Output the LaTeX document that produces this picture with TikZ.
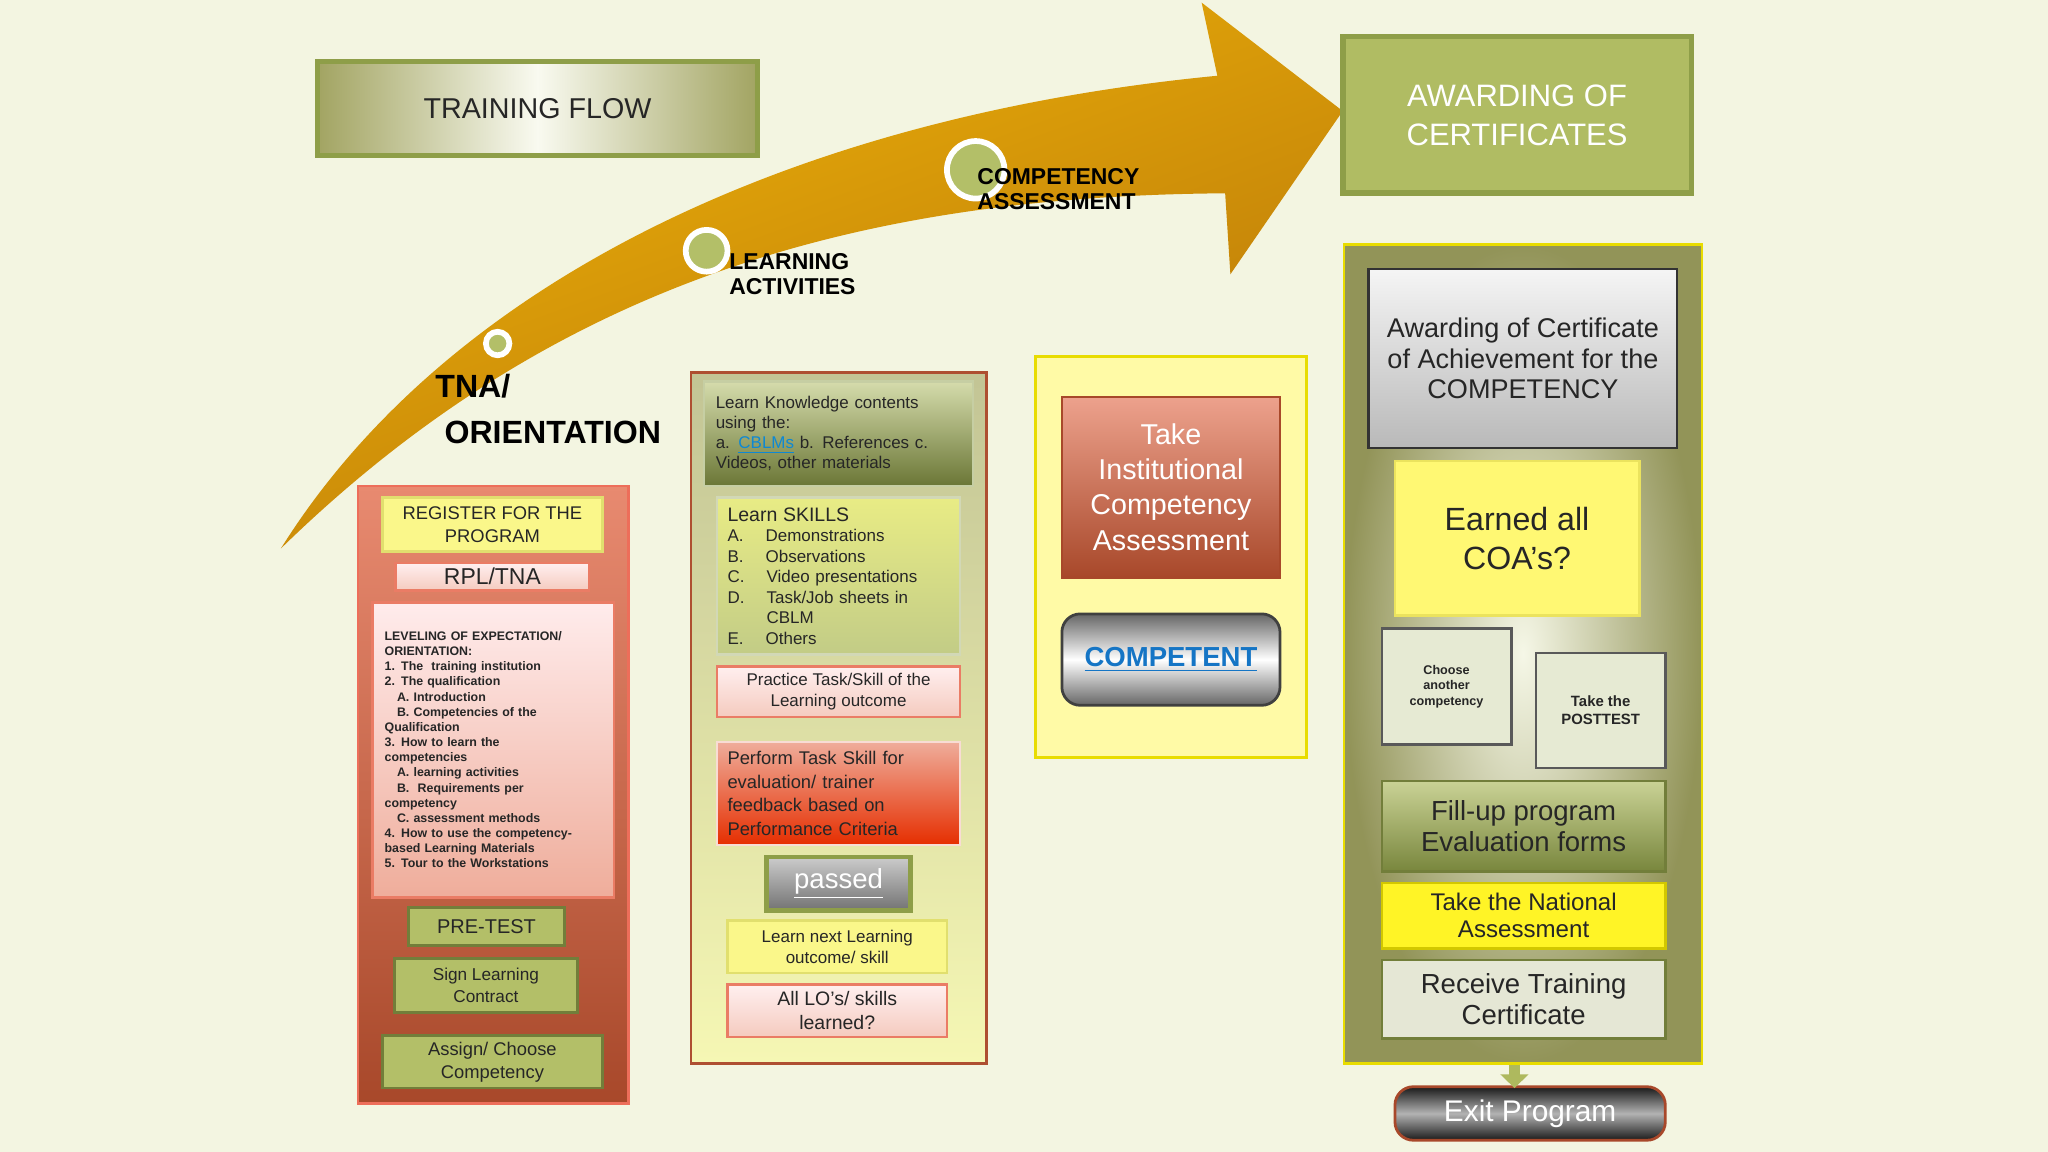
\documentclass[tikz,border=0pt]{standalone}
\usepackage{fontspec}
\setmainfont{Liberation Sans}
\usetikzlibrary{arrows.meta}
\newcommand\fs[2]{\fontsize{#1}{#2}\selectfont}
% box from corner (x1,y1) to (x2,y2), pixel units
\newcommand\Bx[7]{%
  \node[#6, minimum width={(#4-#2)*0.02cm}, minimum height={(#5-#3)*0.02cm}]
    (#1) at ({(#2+#4)/2},{(#3+#5)/2}) {#7};}
\definecolor{bg}{HTML}{F3F5E1}
\definecolor{olv}{HTML}{8E9E48}
\definecolor{olvf}{HTML}{B3BF68}
\definecolor{yel}{HTML}{FAF78A}
\definecolor{gold}{HTML}{E89E0A}
\definecolor{golddk}{HTML}{B8760A}
\definecolor{salm}{HTML}{E88A70}
\definecolor{brick}{HTML}{A8482A}
\definecolor{greyolv}{HTML}{A2A462}
\tikzset{
  base/.style={draw, line width=1.2pt, inner sep=2pt, align=center, text=black!85},
  olivebar/.style={base, draw=olv, left color=#1, right color=#1, middle color=bg!50!white},
  olivebox/.style={base, draw=olv!80!black, fill=olvf},
  yelbox/.style={base, draw=yel!80!olive, fill=yel},
  pinkbox/.style={base, draw=salm!90!red, top color=white!75!pink, bottom color=salm!45},
  greybox/.style={base, draw=gray!70!black, fill=gray!12!olvf!30},
  dot/.style={circle, draw=white, line width=2.5pt, fill=olvf, inner sep=0pt},
  lbl/.style={font=\bfseries, align=left, anchor=west, text=black, inner sep=0pt},
}
\begin{document}
\begin{tikzpicture}[x=0.02cm, y=-0.02cm]
\fill[bg] (0,0) rectangle (1568,882);
\useasboundingbox (0,0) rectangle (1568,882);

% title
\Bx{title}{243}{47}{580}{119}{olivebar=greyolv, line width=2.5pt, font=\fs{12.5}{15}}{TRAINING FLOW}

% curved arrow
\shade[top color=gold!80!yellow, bottom color=golddk, shading angle=20]
  (215,420) .. controls (340,220) and (600,90) .. (932,58)
  -- (920,2) -- (1028,85) -- (942,210) -- (938,148)
  .. controls (650,150) and (420,220) .. (215,420) -- cycle;

\node[dot, minimum size={18*0.02cm}] (d1) at (381,263) {};
\node[dot, minimum size={32*0.02cm}] (d2) at (541,192) {};
\node[dot, minimum size={44*0.02cm}] (d3) at (747,130) {};
\node[lbl, font=\fs{14}{16}\bfseries] (tna) at (333,296) {TNA/};
\node[lbl, font=\fs{14}{16}\bfseries] (ori) at (340,331) {ORIENTATION};
\node[lbl, font=\fs{10}{11}\bfseries] (la) at (558,210) {LEARNING\\ACTIVITIES};
\node[lbl, font=\fs{10}{11}\bfseries] (ca) at (748,145) {COMPETENCY\\ASSESSMENT};

\Bx{award}{1028}{28}{1295}{148}{base, draw=olv, line width=2.5pt, fill=olvf!95!olive, text=white, font=\fs{13.5}{17}}{AWARDING OF\\CERTIFICATES}

% column 1
\Bx{c1}{274}{372}{481}{845}{base, draw=salm!80!red, top color=salm, bottom color=brick}{}
\Bx{reg}{293}{381}{461}{422}{yelbox, font=\fs{8}{10}}{REGISTER FOR THE\\PROGRAM}
\Bx{rpl}{303}{431}{451}{452}{pinkbox, font=\rmfamily\fs{10}{11}}{RPL/TNA}
\Bx{lev}{285}{461}{470}{687}{pinkbox, top color=pink!30!white, bottom color=salm!70, align=left, text width=166*0.02cm, font=\fs{5.4}{6.6}\bfseries}{%
LEVELING OF EXPECTATION/\\ORIENTATION:\\1. The\ \ training institution\\2. The qualification\\
\hspace*{1em}A. Introduction\\\hspace*{1em}B. Competencies of the\\Qualification\\3. How to learn the\\competencies\\
\hspace*{1em}A. learning activities\\\hspace*{1em}B.\ \ Requirements per\\competency\\\hspace*{1em}C. assessment methods\\
4. How to use the competency-\\based Learning Materials\\5. Tour to the Workstations}
\Bx{pre}{313}{695}{432}{724}{olivebox, font=\fs{8.7}{10}}{PRE-TEST}
\Bx{sign}{302}{734}{442}{775}{olivebox, font=\fs{7.5}{9.5}}{Sign Learning\\Contract}
\Bx{asg}{293}{793}{461}{833}{olivebox, font=\fs{8}{10}}{Assign/ Choose\\Competency}

% column 2
\Bx{c2}{529}{285}{755}{814}{base, draw=brick!90!salm, top color=greyolv!60!bg, bottom color=bg!80!yellow}{}
\Bx{know}{539}{292}{745}{372}{base, draw=olv!50, top color=olvf!55!white, bottom color=olv!75!black, align=left, text width=188*0.02cm, font=\fs{7.4}{8.8}}{%
Learn Knowledge contents\\using the:\\a. \textcolor{cyan!70!blue}{\underline{CBLMs}} b. References c.\\Videos, other materials}
\Bx{skill}{549}{381}{735}{501}{base, draw=olv!40, top color=yellow!50!olvf!60, bottom color=olvf!80, align=left, text width=170*0.02cm, font=\fs{7.4}{8.9}}{%
{\fs{8.5}{9}Learn SKILLS}\\A.\hspace{1.3em}Demonstrations\\B.\hspace{1.3em}Observations\\C.\hspace{1.3em}Video presentations\\
D.\hspace{1.3em}Task/Job sheets in\\\hspace*{2.3em}CBLM\\E.\hspace{1.3em}Others}
\Bx{prac}{549}{510}{735}{549}{pinkbox, font=\fs{7.4}{9}}{Practice Task/Skill of the\\Learning outcome}
\Bx{perf}{549}{568}{735}{647}{base, draw=salm!30, top color=salm!70, bottom color=red!60!orange!90!black, align=left, text width=170*0.02cm, font=\fs{8}{10.3}}{%
Perform Task Skill for\\evaluation/ trainer\\feedback based on\\Performance Criteria}
\Bx{pass}{587}{656}{697}{697}{base, draw=olv, line width=2pt, top color=gray!40, bottom color=gray!90!black, text=white, font=\fs{12}{13}}{\underline{passed}}
\Bx{next}{557}{705}{725}{745}{yelbox, font=\fs{7.4}{9}}{Learn next Learning\\outcome/ skill}
\Bx{all}{557}{754}{725}{794}{pinkbox, font=\fs{8.5}{10.5}}{All LO's/ skills\\learned?}

% column 3
\Bx{c3}{793}{273}{1000}{580}{base, draw=yellow!80!olive, fill=yellow!35!white}{}
\Bx{tica}{813}{304}{980}{442}{base, draw=brick, top color=salm!80, bottom color=brick, text=white, font=\fs{12.5}{15.3}}{Take\\Institutional\\Competency\\Assessment}
\Bx{comp}{813}{470}{980}{540}{base, draw=gray!50!black, rounded corners=8pt, top color=gray!80!black, bottom color=gray!80!black, middle color=white, text=cyan!55!blue, font=\fs{12}{14}\bfseries}{\underline{COMPETENT}}

% column 4
\Bx{c4}{1029}{187}{1303}{814}{base, draw=yellow!80!olive, shading=radial, inner color=bg!80!white, outer color=greyolv!90!black}{}
\Bx{aoc}{1048}{206}{1284}{343}{base, draw=black!80, top color=gray!8, bottom color=gray!55, font=\fs{11.8}{13.3}}{Awarding of Certificate\\of Achievement for the\\COMPETENCY}
\Bx{earn}{1068}{353}{1255}{471}{base, draw=yellow!70!olive!60, fill=yellow!55!white, font=\fs{14}{17}}{Earned all\\COA's?}
\Bx{cho}{1058}{481}{1157}{570}{greybox, font=\fs{5.5}{6.7}\bfseries}{Choose\\another\\competency}
\Bx{post}{1176}{500}{1275}{588}{greybox, font=\fs{6.5}{7.8}\bfseries}{Take the\\POSTTEST}
\Bx{fill}{1058}{598}{1275}{667}{base, draw=olv!80!black, top color=olvf!70!white, bottom color=olv!85!black, font=\fs{12}{13.6}}{Fill-up program\\Evaluation forms}
\Bx{nat}{1058}{676}{1275}{726}{base, draw=yellow!60!olive, fill=yellow!85!white, font=\fs{10.5}{12}}{Take the National\\Assessment}
\Bx{rec}{1058}{735}{1275}{795}{base, draw=olv!80!black, fill=gray!12!bg, font=\fs{12}{13.3}}{Receive Training\\Certificate}
\Bx{exit}{1068}{832}{1275}{873}{base, draw=brick, rounded corners=8pt, top color=black!90, bottom color=black!90, middle color=gray!60, text=white, font=\fs{13}{15}}{Exit Program}

\draw[-{Triangle[width=12pt,length=6pt]}, line width=5pt, draw=olvf!90!olive] (c4.south -| exit.north) ++(-12,0) -- ++(0,18) coordinate (tip);
\end{tikzpicture}
\end{document}
